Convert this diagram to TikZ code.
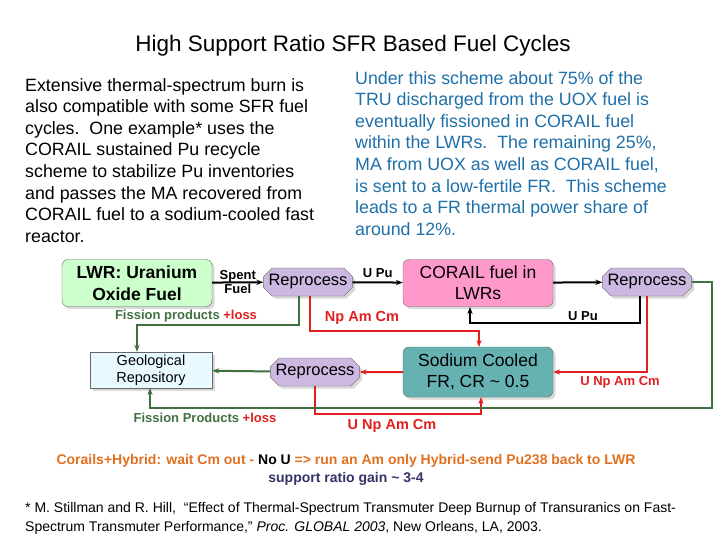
\documentclass[tikz,border=0pt]{standalone}
\usepackage{fontspec}
\setmainfont{Liberation Sans}
\usetikzlibrary{shapes.misc,arrows.meta,shadows}
\definecolor{blutext}{HTML}{1F6FA8}
\definecolor{orangetext}{HTML}{E07020}
\definecolor{navytext}{HTML}{333366}
\definecolor{lwrgreen}{HTML}{CCFFCC}
\definecolor{corailpink}{HTML}{FF99CC}
\definecolor{reprolila}{HTML}{CCB8E0}
\definecolor{sodiumteal}{HTML}{66B2B2}
\definecolor{geoblue}{HTML}{E8FAFF}
\definecolor{fpgreen}{HTML}{3F7040}
\definecolor{flowred}{HTML}{E02020}
\tikzset{
	fuelbox/.style={draw=black!60, rounded corners=6pt, minimum width=150pt, minimum height=47pt, align=center, inner sep=1pt, font=\fontsize{17.5}{21}\selectfont, drop shadow={opacity=0.3}},
	reprobox/.style={draw=black!60, chamfered rectangle, chamfered rectangle xsep=5pt, fill=reprolila, minimum width=87pt, minimum height=28pt, inner sep=0pt, font=\fontsize{16.5}{19}\selectfont, drop shadow={opacity=0.3}},
	flowlbl/.style={font=\bfseries\fontsize{13}{14}\selectfont},
	blk/.style={line width=2pt, -{Stealth[length=7pt]}},
	rd/.style={line width=2pt, draw=flowred, -{Stealth[length=7pt]}},
	gr/.style={line width=2pt, draw=fpgreen, -{Stealth[length=7pt]}}
}
\begin{document}
\begin{tikzpicture}[x=1pt, y=-1pt]
	\useasboundingbox (0,0) rectangle (720,540);
	% Titel
	\node (title) at (353,46) {\fontsize{22.5}{26}\selectfont High Support Ratio SFR Based Fuel Cycles};
	% Texte
	\node[anchor=north west, align=left, inner sep=0pt, font=\fontsize{17.8}{21.6}\selectfont] (lefttext) at (25,78) {Extensive thermal-spectrum burn is\\also compatible with some SFR fuel\\cycles.\ \ One example* uses the\\CORAIL sustained Pu recycle\\scheme to stabilize Pu inventories\\and passes the MA recovered from\\CORAIL fuel to a sodium-cooled fast\\reactor.};
	\node[anchor=north west, align=left, inner sep=0pt, text=blutext, font=\fontsize{17.8}{21.6}\selectfont] (righttext) at (355,71) {Under this scheme about 75\% of the\\TRU discharged from the UOX fuel is\\eventually fissioned in CORAIL fuel\\within the LWRs.\ \ The remaining 25\%,\\MA from UOX as well as CORAIL fuel,\\is sent to a low-fertile FR.\ \ This scheme\\leads to a FR thermal power share of\\around 12\%.};

	% Kaesten
	\node[fuelbox, fill=lwrgreen, font=\bfseries\fontsize{17.5}{22}\selectfont] (lwr) at (137,283) {LWR: Uranium\\Oxide Fuel};
	\node[reprobox] (rep1) at (308,282) {Reprocess};
	\node[fuelbox, fill=corailpink] (corail) at (478,283) {CORAIL fuel in\\LWRs};
	\node[reprobox] (rep2) at (647,282) {Reprocess};
	\node[draw=black!60, fill=geoblue, minimum width=122pt, minimum height=36pt, inner sep=1pt, align=center, font=\fontsize{14.5}{17}\selectfont, drop shadow={opacity=0.3}] (geo) at (151,370) {Geological\\Repository};
	\node[reprobox] (rep3) at (315,372) {Reprocess};
	\node[fuelbox, fill=sodiumteal, minimum height=50pt] (sodium) at (478,372) {Sodium Cooled\\FR, CR \textasciitilde\ 0.5};

	% Verbindungen
	\draw[blk] (lwr) -- node[flowlbl, align=center] {Spent\\Fuel} (rep1);
	\draw[blk] (rep1) -- node[flowlbl, above] {U Pu} (corail);
	\draw[blk] (corail) -- (rep2);
	\draw[blk] (rep2.south) ++(-7,0) |- (470,323) -- (470,307);
	\node[flowlbl] (upu) at (583,316) {U Pu};
	\draw[rd] ([xshift=2pt]rep1.south) |- (479,331) -- (479,347);
	\node[flowlbl, text=flowred, font=\bfseries\fontsize{14.5}{16}\selectfont] (npamcm) at (362,318) {Np Am Cm};
	\draw[gr] ([xshift=-9pt]rep1.south) |- (137,325) -- (geo.north -| 137,0);
	\node[flowlbl, text=fpgreen] (fp1) at (186,316) {Fission products \textcolor{flowred}{+loss}};
	\draw[rd] (rep2.south) |- (sodium.east);
	\node[flowlbl] (unp1) [text=flowred] at (620,382) {U Np Am Cm};
	\draw[rd] (sodium) -- (rep3);
	\draw[gr] (rep3) -- (geo);
	\draw[rd] (rep3.south) |- (481,414) -- (481,397);
	\node[flowlbl, text=flowred, font=\bfseries\fontsize{14.5}{16}\selectfont] (unp2) at (392,426) {U Np Am Cm};
	\draw[gr] (rep2.east) -- (712,282) |- (150,408) -- (150,388);
	\node[flowlbl, text=fpgreen] (fp2) at (205,418) {Fission Products \textcolor{flowred}{+loss}};

	% Unten
	\node[align=center, font=\bfseries\fontsize{14}{18}\selectfont] (hybrid) at (346,470) {\textcolor{orangetext}{Corails+Hybrid: wait Cm out -} No U \textcolor{orangetext}{=> run an Am only Hybrid-send Pu238 back to LWR}\\\textcolor{navytext}{support ratio gain \textasciitilde\ 3-4}};
	\node[anchor=north west, align=left, inner sep=0pt, font=\fontsize{14}{19}\selectfont] (refnote) at (25,502) {* M. Stillman and R. Hill,\ \ ``Effect of Thermal-Spectrum Transmuter Deep Burnup of Transuranics on Fast-\\Spectrum Transmuter Performance,'' \textit{Proc. GLOBAL 2003}, New Orleans, LA, 2003.};
\end{tikzpicture}
\end{document}
